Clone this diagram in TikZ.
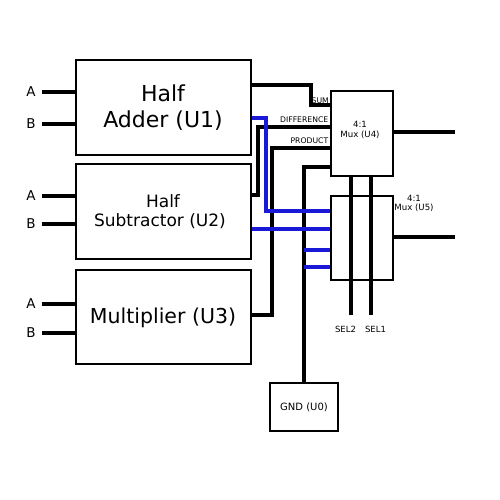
\documentclass[tikz,border=0pt]{standalone}
\usepackage{fontspec}
\setmainfont{DejaVu Sans}
\definecolor{wireblue}{RGB}{25,25,215}
\begin{document}
\begin{tikzpicture}[x=1pt,y=-1pt,
  box/.style={draw,line width=1.8pt,inner sep=0pt},
  wire/.style={line width=4.5pt},
  bwire/.style={line width=4.5pt,draw=wireblue},
  pin/.style={font=\fontsize{13.5}{13.5}\selectfont,inner sep=0pt},
  sig/.style={font=\fontsize{7.7}{8}\selectfont,inner sep=0pt,anchor=east},
  small/.style={font=\fontsize{8.6}{9}\selectfont,inner sep=0pt}]
\useasboundingbox (0,0) rectangle (500,500);
\fill[white] (0,0) rectangle (500,500);
% blocks
\node[box,minimum width=175pt,minimum height=95pt] (U1) at (163.5,107.5) {};
\node[box,minimum width=175pt,minimum height=95pt] (U2) at (163.5,211.5) {};
\node[box,minimum width=175pt,minimum height=94pt] (U3) at (163.5,317) {};
\node[box,minimum width=62pt,minimum height=85pt] (U4) at (362,133.5) {};
\node[box,minimum width=62pt,minimum height=84pt] (U5) at (362,238) {};
\node[box,minimum width=68pt,minimum height=48pt] (U0) at (304,407) {};
% block texts
\node[font=\fontsize{22}{22}\selectfont,inner sep=0pt] (t1a) at (163,93) {Half};
\node[font=\fontsize{22}{22}\selectfont,inner sep=0pt] (t1b) at (163,121) {Adder (U1)};
\node[font=\fontsize{17}{17}\selectfont,inner sep=0pt] (t2a) at (163,201) {Half};
\node[font=\fontsize{17}{17}\selectfont,inner sep=0pt] (t2b) at (160,221) {Subtractor (U2)};
\node[font=\fontsize{20.5}{20.5}\selectfont,inner sep=0pt] (t3) at (163,318) {Multiplier (U3)};
\node[small] (t4a) at (360,124) {4:1};
\node[small] (t4b) at (360,135) {Mux (U4)};
\node[small] (t5a) at (414,198) {4:1};
\node[small] (t5b) at (414,208) {Mux (U5)};
\node[font=\fontsize{10}{10}\selectfont,inner sep=0pt] (t0) at (304,407) {GND (U0)};
% inputs
\foreach \n/\b/\y/\l in {a1/U1/92/A,b1/U1/124/B,a2/U2/196/A,b2/U2/224/B,a3/U3/304/A,b3/U3/333/B}{
  \coordinate (\n) at (42,\y);
  \draw[wire] (\n) -- (\b.west |- \n);
  \node[pin] (l\n) at (31,\y) {\l};
}
% corner coordinates
\coordinate (s1) at (311,85);  \coordinate (s2) at (311,105);
\coordinate (d1) at (258,195); \coordinate (d2) at (258,127);
\coordinate (p1) at (272,315); \coordinate (p2) at (272,148);
\coordinate (g1) at (304,167);
\coordinate (q1) at (266,118); \coordinate (q2) at (266,211);
\coordinate (r1) at (304,250); \coordinate (r2) at (304,267);
\coordinate (e1) at (351,315); \coordinate (e2) at (371,315);
\coordinate (o4) at (455,132); \coordinate (o5) at (455,237);
% black wires
\draw[wire] (U1.east |- s1) -- (s1) -- (s2) -- (U4.west |- s2);
\draw[wire] (U2.east |- d1) -- (d1) -- (d2) -- (U4.west |- d2);
\draw[wire] (U3.east |- p1) -- (p1) -- (p2) -- (U4.west |- p2);
\draw[wire] (U0.north) -- (g1) -- (U4.west |- g1);
\draw[wire] (U4.south -| e1) -- (e1);
\draw[wire] (U4.south -| e2) -- (e2);
\draw[wire] (U4.east |- o4) -- (o4);
\draw[wire] (U5.east |- o5) -- (o5);
% blue wires
\draw[bwire] (U1.east |- q1) -- (q1) -- (q2) -- (U5.west |- q2);
\draw[bwire] (U2.east |- 0,229) coordinate (x2) -- (U5.west |- x2);
\draw[bwire] (r1) -- (U5.west |- r1);
\draw[bwire] (r2) -- (U5.west |- r2);
% signal labels
\node[sig] (lsum) at (329,100.5) {SUM};
\node[sig] (ldif) at (328.5,120) {DIFFERENCE};
\node[sig] (lprod) at (328.5,141) {PRODUCT};
\node[font=\fontsize{8.5}{9}\selectfont,inner sep=0pt] (lsel2) at (345.5,329) {SEL2};
\node[font=\fontsize{8.5}{9}\selectfont,inner sep=0pt] (lsel1) at (375.5,329) {SEL1};
\end{tikzpicture}
\end{document}
